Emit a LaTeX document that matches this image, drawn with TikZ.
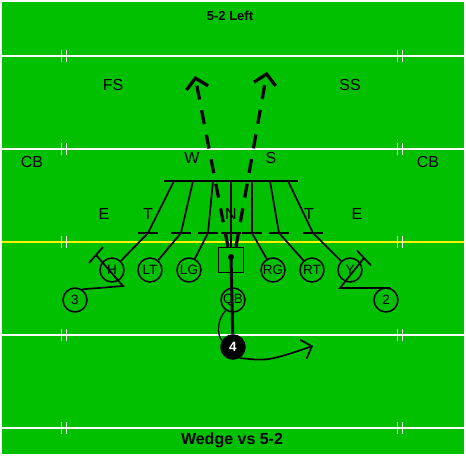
\documentclass[tikz,border=0pt]{standalone}
\usepackage{fontspec}
\setmainfont{Liberation Sans}
\usetikzlibrary{arrows.meta}
\definecolor{turf}{RGB}{0,192,0}

\begin{document}
\begin{tikzpicture}[x=1pt, y=-1pt,
  player/.style = {draw, circle, line width = 1.5pt, minimum size = 24pt, inner sep = 0pt, font = \fontsize{13.5}{13.5}\selectfont},
  dlabel/.style = {font = \fontsize{16}{16}\selectfont},
  block/.style = {line width = 1.7pt},
  route/.style = {line width = 3.2pt, dash pattern = on 14pt off 11pt, -{Straight Barb[length = 10pt, width = 22pt]}},
  yardline/.style = {white, line width = 1.2pt}]
\useasboundingbox (0,0) rectangle (466,456);
\fill[white] (0,0) rectangle (466,456);
\fill[turf] (2,2) rectangle (464,454);

\foreach \y in {56,149,335,428} \draw[yardline] (2,\y) -- (464,\y);
\draw[yellow, line width = 1.2pt] (2,242) -- (464,242);
\foreach \y in {56,149,242,335,428}
  \foreach \x in {61,66,397,402} \draw[white, line width = 1pt] (\x,\y-6) -- (\x,\y+6);

\node[font = \bfseries\fontsize{13}{13}\selectfont] (title) at (230,16) {5-2 Left};
\node[font = \bfseries\fontsize{16}{16}\selectfont] (caption) at (232,440) {Wedge vs 5-2};

\node[dlabel] (FS) at (113,85) {FS};
\node[dlabel] (SS) at (350,85) {SS};
\node[dlabel] (CBl) at (32,162) {CB};
\node[dlabel] (CBr) at (428,162) {CB};
\node[dlabel] (W) at (192,158) {W};
\node[dlabel] (S) at (271,158) {S};
\node[dlabel] (El) at (104,214) {E};
\node[dlabel] (Tl) at (148,214) {T};
\node[dlabel] (N) at (231,214) {N};
\node[dlabel] (Tr) at (309,214) {T};
\node[dlabel] (Er) at (357,214) {E};

\node[player] (H) at (112,270) {H};
\node[player] (LT) at (150,270) {LT};
\node[player] (LG) at (189,270) {LG};
\node[draw, line width = 1.5pt, minimum size = 25pt, inner sep = 0pt] (C) at (231,260) {};
\node[player] (RG) at (273,270) {RG};
\node[player] (RT) at (312,270) {RT};
\node[player] (Y) at (350,270) {Y};
\node[player] (QB) at (233,300) {QB};
\node[player] (B3) at (75,300) {3};
\node[player] (B2) at (386,300) {2};

\coordinate (lvlW) at (164,181);
\coordinate (lvlE) at (298,181);
\draw[block] (lvlW) -- (lvlE);
\foreach \n/\x/\t in {H/148/174, LT/181/193, LG/208/213, C/231/231, RG/252/252, RT/279/270, Y/313/288} {
  \coordinate (j\n) at (\x,233);
  \coordinate (t\n) at (\t,181);
  \draw[block] (\n) -- (j\n) -- (t\n);
  \draw[block] ([xshift = -10pt]j\n) -- ([xshift = 10pt]j\n);
}

\coordinate (k3) at (123,286);
\coordinate (e3) at (96,255);
\draw[block] (B3.57) -- (k3) -- (e3);
\draw[block] ([shift = {(-7,8)}]e3) -- ([shift = {(7,-8)}]e3);
\coordinate (k2) at (340,288);
\coordinate (e2) at (364,258);
\draw[block] (B2.70) -- (k2) -- (e2);
\draw[block] ([shift = {(-7,-7.5)}]e2) -- ([shift = {(7,7.5)}]e2);

\coordinate (deepL) at (195,76);
\coordinate (deepR) at (267,72);
\draw[route] ([xshift = -3pt]C.north) -- (deepL);
\draw[route] ([xshift = 5pt]C.north) -- (deepR);

\node[player, fill = black, text = white, font = \bfseries\fontsize{13.5}{13.5}\selectfont] (B4) at (233,347) {4};
\draw[line width = 1.3pt] (QB.235) .. controls (218,318) and (216,334) .. (B4.150);
\fill (231,257) circle[radius = 3pt];
\draw[line width = 3pt] (231,257) -- (B4);
\coordinate (run) at (313,346);
\draw[block, -{Straight Barb[length = 9pt, width = 20pt]}] (B4.-60) .. controls (268,361) .. (run);
\end{tikzpicture}
\end{document}
